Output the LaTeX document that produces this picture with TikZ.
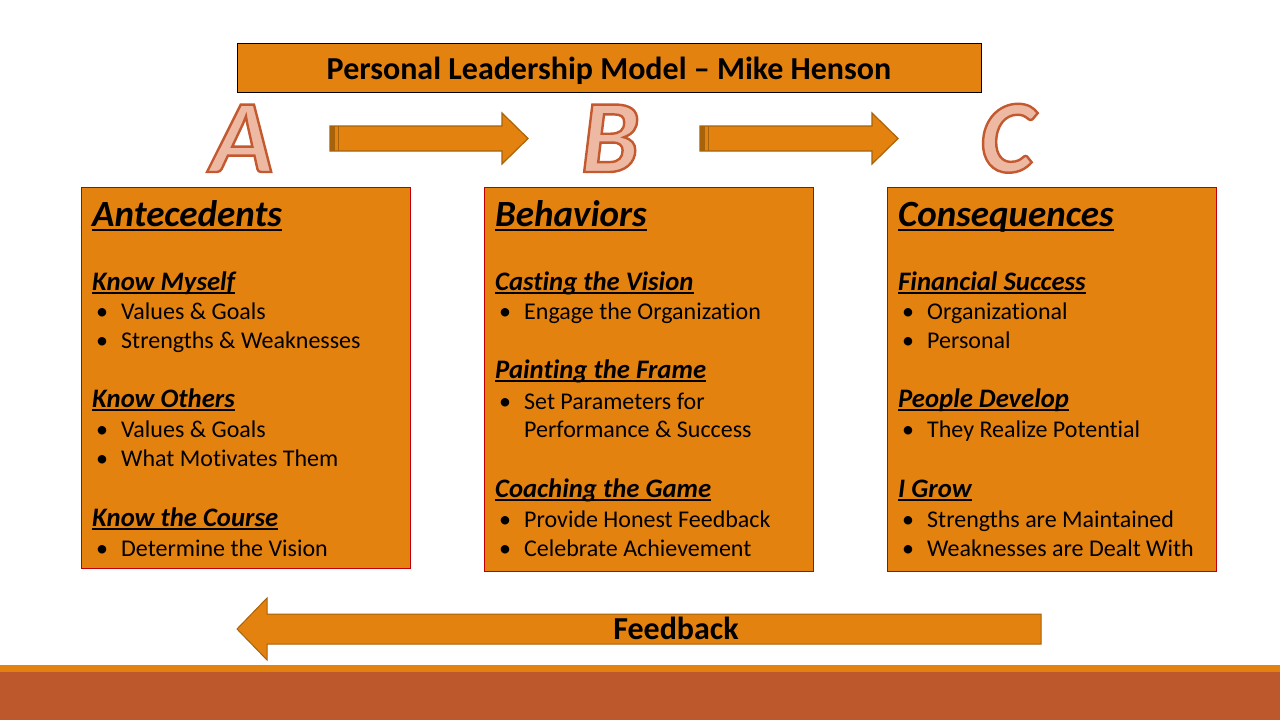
\documentclass[tikz,border=0pt]{standalone}
\usepackage{fontspec}
\setmainfont{Carlito}[Ligatures=NoCommon]
\definecolor{org}{HTML}{E4820F}
\definecolor{orgline}{HTML}{A8620A}
\definecolor{boxred}{HTML}{C00000}
\definecolor{rust}{HTML}{BD582C}
\definecolor{salmon}{HTML}{EDB9A3}
\definecolor{letline}{HTML}{C4592F}
\tikzset{
  txt/.style={anchor=base west, inner sep=0pt, font=\fontsize{24}{29}\selectfont},
  hd/.style={anchor=base west, inner sep=0pt, font=\fontsize{26.7}{32}\selectfont\bfseries\itshape},
  ttl/.style={anchor=base west, inner sep=0pt, font=\fontsize{37}{44}\selectfont\bfseries\itshape},
  panel/.style={fill=org, draw=boxred, line width=0.8pt},
  blockarrow/.style={fill=org, draw=orgline, line width=1.2pt, line join=miter},
  bigletter/.style={anchor=base, inner sep=0pt, font=\fontsize{104}{116}\selectfont\bfseries\itshape},
  hdline/.style={line width=1.7pt, black},
  ttlline/.style={line width=2.3pt, black},
}
\newcommand\hdul[1]{\draw[hdline] ([yshift=-3pt]#1.base west) -- ([yshift=-3pt]#1.base east);}
\newcommand\ttlul[1]{\draw[ttlline] ([yshift=-4pt]#1.base west) -- ([yshift=-4pt]#1.base east);}
\newcommand\outl[1]{\special{pdf:literal direct q 2 Tr 2.4 w 0.769 0.349 0.184 RG 0.929 0.725 0.639 rg}#1\special{pdf:literal direct Q}}
\begin{document}
\begin{tikzpicture}[x=1pt,y=-1pt]
\useasboundingbox (0,0) rectangle (1280,720);
\fill[white] (0,0) rectangle (1280,720);
% bottom bands
\fill[org] (0,665) rectangle (1280,672);
\fill[rust] (0,672) rectangle (1280,720);
% title
\node[panel, draw=black, line width=0.7pt, minimum width=744pt, minimum height=49pt, anchor=north west, inner sep=0pt] (title) at (237,43) {};
\node[anchor=base, inner sep=0pt, font=\fontsize{32}{38}\selectfont\bfseries] (titletext) at (609,79) {Personal Leadership Model – Mike Henson};
% letters
\node[bigletter] (la) at (242,172) {\outl{A}};
\node[bigletter] (lb) at (610,172) {\outl{B}};
\node[bigletter] (lc) at (1007,172) {\outl{C}};
% arrows
\draw[blockarrow] (330,126) -- (502,126) -- (502,113) -- (528,138.5) -- (502,164) -- (502,151) -- (330,151) -- cycle;
\fill[orgline] (330,126) rectangle (335,151);
\draw[orgline, line width=0.8pt] (338,126) -- (338,151);
\draw[blockarrow] (700,126) -- (872,126) -- (872,113) -- (898,138.5) -- (872,164) -- (872,151) -- (700,151) -- cycle;
\fill[orgline] (700,126) rectangle (705,151);
\draw[orgline, line width=0.8pt] (708,126) -- (708,151);
\draw[blockarrow, line width=1pt] (1041,614) -- (267,614) -- (267,598) -- (237,629) -- (267,660) -- (267,644) -- (1041,644) -- cycle;
\node[anchor=base, inner sep=0pt, font=\fontsize{32}{38}\selectfont\bfseries] (fb) at (676,639) {Feedback};
% panels
\node[panel, minimum width=329pt, minimum height=381pt, anchor=north west, inner sep=0pt] (pa) at (81,187) {};
\node[panel, minimum width=329pt, minimum height=384pt, anchor=north west, inner sep=0pt] (pb) at (484,187) {};
\node[panel, minimum width=329pt, minimum height=384pt, anchor=north west, inner sep=0pt] (pc) at (887,187) {};
% left panel text
\node[ttl] (a0) at (92,226) {Antecedents}; \ttlul{a0}
\node[hd] (a1) at (92,290) {Know Myself}; \hdul{a1}
\node[txt] (a2b) at (96,319) {•};
\node[txt] (a2) at (121,319) {Values \& Goals};
\node[txt] (a3b) at (96,348) {•};
\node[txt] (a3) at (121,348) {Strengths \& Weaknesses};
\node[hd] (a4) at (92,407) {Know Others}; \hdul{a4}
\node[txt] (a5b) at (96,437) {•};
\node[txt] (a5) at (121,437) {Values \& Goals};
\node[txt] (a6b) at (96,466) {•};
\node[txt] (a6) at (121,466) {What Motivates Them};
\node[hd] (a7) at (92,526) {Know the Course}; \hdul{a7}
\node[txt] (a8b) at (96,556) {•};
\node[txt] (a8) at (121,556) {Determine the Vision};
% middle panel text
\node[ttl] (b0) at (495,226) {Behaviors}; \ttlul{b0}
\node[hd] (b1) at (495,290) {Casting the Vision}; \hdul{b1}
\node[txt] (b2b) at (499,319) {•};
\node[txt] (b2) at (524,319) {Engage the Organization};
\node[hd] (b3) at (495,378) {Painting the Frame}; \hdul{b3}
\node[txt] (b4b) at (499,409) {•};
\node[txt] (b4) at (524,409) {Set Parameters for};
\node[txt] (b5) at (524,437) {Performance \& Success};
\node[hd] (b6) at (495,497) {Coaching the Game}; \hdul{b6}
\node[txt] (b7b) at (499,527) {•};
\node[txt] (b7) at (524,527) {Provide Honest Feedback};
\node[txt] (b8b) at (499,556) {•};
\node[txt] (b8) at (524,556) {Celebrate Achievement};
% right panel text
\node[ttl] (c0) at (898,226) {Consequences}; \ttlul{c0}
\node[hd] (c1) at (898,290) {Financial Success}; \hdul{c1}
\node[txt] (c2b) at (902,319) {•};
\node[txt] (c2) at (927,319) {Organizational};
\node[txt] (c3b) at (902,348) {•};
\node[txt] (c3) at (927,348) {Personal};
\node[hd] (c4) at (898,407) {People Develop}; \hdul{c4}
\node[txt] (c5b) at (902,437) {•};
\node[txt] (c5) at (927,437) {They Realize Potential};
\node[hd] (c6) at (898,497) {I Grow}; \hdul{c6}
\node[txt] (c7b) at (902,527) {•};
\node[txt] (c7) at (927,527) {Strengths are Maintained};
\node[txt] (c8b) at (902,556) {•};
\node[txt] (c8) at (927,556) {Weaknesses are Dealt With};
\end{tikzpicture}
\end{document}
